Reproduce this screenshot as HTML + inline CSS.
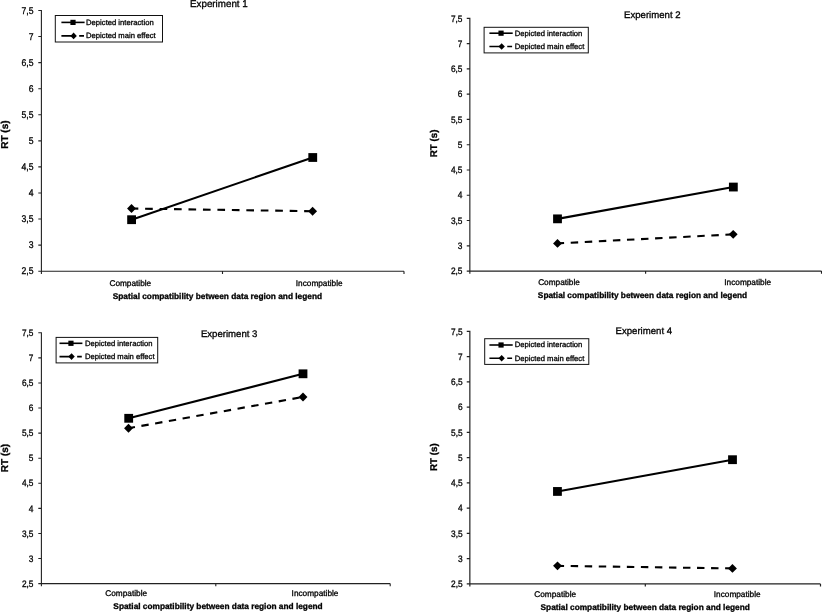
<!DOCTYPE html>
<html><head><meta charset="utf-8"><title>Experiments 1-4</title>
<style>
html,body{margin:0;padding:0;background:#fff;}
body{width:822px;height:612px;overflow:hidden;}
svg{display:block;font-family:"Liberation Sans", sans-serif;}
svg text{text-rendering:geometricPrecision;fill:#000;stroke:#000;stroke-width:0.3px;}
</style></head><body>
<svg width="822" height="612" viewBox="0 0 822 612">
<rect width="822" height="612" fill="#fff"/>
<g class="axes" fill="none" stroke="#222" stroke-width="1.1">
<path d="M41.4 10V271.2H404M38.3 271.2H41.4M38.3 245.13H41.4M38.3 219.06H41.4M38.3 192.99H41.4M38.3 166.92H41.4M38.3 140.85H41.4M38.3 114.78H41.4M38.3 88.71H41.4M38.3 62.64H41.4M38.3 36.57H41.4M38.3 10.5H41.4M41.4 271.2V273.9M222.5 271.2V273.9M404 271.2V273.9"/></g>
<g class="ticks" text-anchor="end" font-size="9.7">
<text transform="translate(33.5 274.4) scale(0.89 1)">2,5</text>
<text transform="translate(33.5 248.33) scale(0.89 1)">3</text>
<text transform="translate(33.5 222.26) scale(0.89 1)">3,5</text>
<text transform="translate(33.5 196.19) scale(0.89 1)">4</text>
<text transform="translate(33.5 170.12) scale(0.89 1)">4,5</text>
<text transform="translate(33.5 144.05) scale(0.89 1)">5</text>
<text transform="translate(33.5 117.98) scale(0.89 1)">5,5</text>
<text transform="translate(33.5 91.91) scale(0.89 1)">6</text>
<text transform="translate(33.5 65.84) scale(0.89 1)">6,5</text>
<text transform="translate(33.5 39.77) scale(0.89 1)">7</text>
<text transform="translate(33.5 13.7) scale(0.89 1)">7,5</text>
</g>
<text x="130.3" y="285.8" text-anchor="middle" font-size="8.25">Compatible</text>
<text x="319.2" y="285.8" text-anchor="middle" font-size="8.25">Incompatible</text>
<text x="217.4" y="299.1" text-anchor="middle" font-size="8.3" font-weight="bold">Spatial compatibility between data region and legend</text>
<text transform="translate(7.7 134.6) rotate(-90)" text-anchor="middle" font-size="10.0" font-weight="bold">RT (s)</text>
<text x="218.9" y="7.2" text-anchor="middle" font-size="9.8">Experiment 1</text>
<path d="M131.6 219.7L312.75 157.5" stroke="#000" stroke-width="2.1" fill="none"/>
<path d="M131.5 208.55L312.6 211.2" stroke="#000" stroke-width="2.1" fill="none" stroke-dasharray="7.66 6.8" stroke-dashoffset="0.85"/>
<rect x="127.2" y="215.3" width="8.8" height="8.8" fill="#000"/>
<rect x="308.35" y="153.1" width="8.8" height="8.8" fill="#000"/>
<path d="M127.05 208.55L131.5 204.1L135.95 208.55L131.5 213Z" fill="#000"/>
<path d="M308.15 211.2L312.6 206.75L317.05 211.2L312.6 215.65Z" fill="#000"/>
<rect x="55.3" y="15.5" width="107.2" height="26.5" fill="#fff" stroke="#111" stroke-width="1"/>
<path d="M61.4 22.4H84.6" stroke="#000" stroke-width="1.6"/>
<rect x="70.4" y="19.8" width="5.2" height="5.2" fill="#000"/>
<path d="M61.4 35.9H73M79.2 35.9H84" stroke="#000" stroke-width="1.6"/>
<path d="M70.4 35.9l3.2 -3.3l3.2 3.3l-3.2 3.3Z" fill="#000"/>
<text x="86.1" y="24.8" font-size="7.65">Depicted interaction</text>
<text x="86.1" y="38.2" font-size="7.65">Depicted main effect</text>
<g class="axes" fill="none" stroke="#222" stroke-width="1.15">
<path d="M469.85 17.8V271.1H821.5M466.75 271.1H469.85M466.75 245.82H469.85M466.75 220.54H469.85M466.75 195.26H469.85M466.75 169.98H469.85M466.75 144.7H469.85M466.75 119.42H469.85M466.75 94.14H469.85M466.75 68.86H469.85M466.75 43.58H469.85M466.75 18.3H469.85M469.85 271.1V273.8M645.6 271.1V273.8M821.5 271.1V273.8"/></g>
<g class="ticks" text-anchor="end" font-size="9.4">
<text transform="translate(462.5 274.3) scale(0.89 1)">2,5</text>
<text transform="translate(462.5 249.02) scale(0.89 1)">3</text>
<text transform="translate(462.5 223.74) scale(0.89 1)">3,5</text>
<text transform="translate(462.5 198.46) scale(0.89 1)">4</text>
<text transform="translate(462.5 173.18) scale(0.89 1)">4,5</text>
<text transform="translate(462.5 147.9) scale(0.89 1)">5</text>
<text transform="translate(462.5 122.62) scale(0.89 1)">5,5</text>
<text transform="translate(462.5 97.34) scale(0.89 1)">6</text>
<text transform="translate(462.5 72.06) scale(0.89 1)">6,5</text>
<text transform="translate(462.5 46.78) scale(0.89 1)">7</text>
<text transform="translate(462.5 21.5) scale(0.89 1)">7,5</text>
</g>
<text x="559" y="285.1" text-anchor="middle" font-size="8.25">Compatible</text>
<text x="747.7" y="285.1" text-anchor="middle" font-size="8.25">Incompatible</text>
<text x="642.5" y="298.4" text-anchor="middle" font-size="8.3" font-weight="bold">Spatial compatibility between data region and legend</text>
<text transform="translate(436.7 143.4) rotate(-90)" text-anchor="middle" font-size="9.8" font-weight="bold">RT (s)</text>
<text x="652.3" y="18" text-anchor="middle" font-size="9.6">Experiment 2</text>
<path d="M557.5 218.85L733.35 187.05" stroke="#000" stroke-width="2.1" fill="none"/>
<path d="M557.5 243.4L733.2 234.35" stroke="#000" stroke-width="2.1" fill="none" stroke-dasharray="7.46 6.62" stroke-dashoffset="0.85"/>
<rect x="553.1" y="214.45" width="8.8" height="8.8" fill="#000"/>
<rect x="728.95" y="182.65" width="8.8" height="8.8" fill="#000"/>
<path d="M553.05 243.4L557.5 238.95L561.95 243.4L557.5 247.85Z" fill="#000"/>
<path d="M728.75 234.35L733.2 229.9L737.65 234.35L733.2 238.8Z" fill="#000"/>
<rect x="484.1" y="27.3" width="104.2" height="25.6" fill="#fff" stroke="#111" stroke-width="1"/>
<path d="M489.4 33.2H512.7" stroke="#000" stroke-width="1.6"/>
<rect x="498.45" y="30.6" width="5.2" height="5.2" fill="#000"/>
<path d="M489.4 46.5H501.05M507.25 46.5H512.1" stroke="#000" stroke-width="1.6"/>
<path d="M498.45 46.5l3.2 -3.3l3.2 3.3l-3.2 3.3Z" fill="#000"/>
<text x="514.8" y="35.6" font-size="7.65">Depicted interaction</text>
<text x="514.8" y="48.8" font-size="7.65">Depicted main effect</text>
<g class="axes" fill="none" stroke="#222" stroke-width="1.1">
<path d="M41.4 332.3V583.6H390.2M38.3 583.6H41.4M38.3 558.52H41.4M38.3 533.44H41.4M38.3 508.36H41.4M38.3 483.28H41.4M38.3 458.2H41.4M38.3 433.12H41.4M38.3 408.04H41.4M38.3 382.96H41.4M38.3 357.88H41.4M38.3 332.8H41.4M41.4 583.6V586.3M215.8 583.6V586.3M390.2 583.6V586.3"/></g>
<g class="ticks" text-anchor="end" font-size="9.4">
<text transform="translate(33.5 586.8) scale(0.89 1)">2,5</text>
<text transform="translate(33.5 561.72) scale(0.89 1)">3</text>
<text transform="translate(33.5 536.64) scale(0.89 1)">3,5</text>
<text transform="translate(33.5 511.56) scale(0.89 1)">4</text>
<text transform="translate(33.5 486.48) scale(0.89 1)">4,5</text>
<text transform="translate(33.5 461.4) scale(0.89 1)">5</text>
<text transform="translate(33.5 436.32) scale(0.89 1)">5,5</text>
<text transform="translate(33.5 411.24) scale(0.89 1)">6</text>
<text transform="translate(33.5 386.16) scale(0.89 1)">6,5</text>
<text transform="translate(33.5 361.08) scale(0.89 1)">7</text>
<text transform="translate(33.5 336) scale(0.89 1)">7,5</text>
</g>
<text x="126.2" y="595.8" text-anchor="middle" font-size="8.25">Compatible</text>
<text x="315" y="595.8" text-anchor="middle" font-size="8.25">Incompatible</text>
<text x="218" y="608.6" text-anchor="middle" font-size="8.3" font-weight="bold">Spatial compatibility between data region and legend</text>
<text transform="translate(7.7 458) rotate(-90)" text-anchor="middle" font-size="10.0" font-weight="bold">RT (s)</text>
<text x="229.2" y="336.6" text-anchor="middle" font-size="9.6">Experiment 3</text>
<path d="M128.7 418.3L303 373.8" stroke="#000" stroke-width="2.1" fill="none"/>
<path d="M128.5 428.2L303 397" stroke="#000" stroke-width="2.1" fill="none" stroke-dasharray="7.39 6.56" stroke-dashoffset="0.85"/>
<rect x="124.3" y="413.9" width="8.8" height="8.8" fill="#000"/>
<rect x="298.6" y="369.4" width="8.8" height="8.8" fill="#000"/>
<path d="M124.05 428.2L128.5 423.75L132.95 428.2L128.5 432.65Z" fill="#000"/>
<path d="M298.55 397L303 392.55L307.45 397L303 401.45Z" fill="#000"/>
<rect x="56.1" y="337.4" width="101.6" height="25.5" fill="#fff" stroke="#111" stroke-width="1"/>
<path d="M59.5 343.3H82.4" stroke="#000" stroke-width="1.6"/>
<rect x="68.35" y="340.7" width="5.2" height="5.2" fill="#000"/>
<path d="M59.5 356.6H70.95M77.15 356.6H81.8" stroke="#000" stroke-width="1.6"/>
<path d="M68.35 356.6l3.2 -3.3l3.2 3.3l-3.2 3.3Z" fill="#000"/>
<text x="85" y="345.7" font-size="7.65">Depicted interaction</text>
<text x="85" y="358.9" font-size="7.65">Depicted main effect</text>
<g class="axes" fill="none" stroke="#222" stroke-width="1.2">
<path d="M469.85 330.8V583.9H820.5M466.75 583.9H469.85M466.75 558.64H469.85M466.75 533.38H469.85M466.75 508.12H469.85M466.75 482.86H469.85M466.75 457.6H469.85M466.75 432.34H469.85M466.75 407.08H469.85M466.75 381.82H469.85M466.75 356.56H469.85M466.75 331.3H469.85M469.85 583.9V586.6M645.3 583.9V586.6M820.5 583.9V586.6"/></g>
<g class="ticks" text-anchor="end" font-size="9.4">
<text transform="translate(462.6 587.1) scale(0.89 1)">2,5</text>
<text transform="translate(462.6 561.84) scale(0.89 1)">3</text>
<text transform="translate(462.6 536.58) scale(0.89 1)">3,5</text>
<text transform="translate(462.6 511.32) scale(0.89 1)">4</text>
<text transform="translate(462.6 486.06) scale(0.89 1)">4,5</text>
<text transform="translate(462.6 460.8) scale(0.89 1)">5</text>
<text transform="translate(462.6 435.54) scale(0.89 1)">5,5</text>
<text transform="translate(462.6 410.28) scale(0.89 1)">6</text>
<text transform="translate(462.6 385.02) scale(0.89 1)">6,5</text>
<text transform="translate(462.6 359.76) scale(0.89 1)">7</text>
<text transform="translate(462.6 334.5) scale(0.89 1)">7,5</text>
</g>
<text x="555.2" y="596.6" text-anchor="middle" font-size="8.25">Compatible</text>
<text x="737.2" y="596.6" text-anchor="middle" font-size="8.25">Incompatible</text>
<text x="645.2" y="609.6" text-anchor="middle" font-size="8.3" font-weight="bold">Spatial compatibility between data region and legend</text>
<text transform="translate(436.5 457.2) rotate(-90)" text-anchor="middle" font-size="9.8" font-weight="bold">RT (s)</text>
<text x="643.8" y="333.5" text-anchor="middle" font-size="9.6">Experiment 4</text>
<path d="M557.45 491.45L732.5 459.7" stroke="#000" stroke-width="2.1" fill="none"/>
<path d="M557.5 565.85L732.45 568.4" stroke="#000" stroke-width="2.1" fill="none" stroke-dasharray="7.44 6.6" stroke-dashoffset="0.85"/>
<rect x="553.05" y="487.05" width="8.8" height="8.8" fill="#000"/>
<rect x="728.1" y="455.3" width="8.8" height="8.8" fill="#000"/>
<path d="M553.05 565.85L557.5 561.4L561.95 565.85L557.5 570.3Z" fill="#000"/>
<path d="M728 568.4L732.45 563.95L736.9 568.4L732.45 572.85Z" fill="#000"/>
<rect x="484.7" y="338.7" width="104.1" height="25.7" fill="#fff" stroke="#111" stroke-width="1"/>
<path d="M489.4 345H512.7" stroke="#000" stroke-width="1.6"/>
<rect x="498.45" y="342.4" width="5.2" height="5.2" fill="#000"/>
<path d="M489.4 358.2H501.05M507.25 358.2H512.1" stroke="#000" stroke-width="1.6"/>
<path d="M498.45 358.2l3.2 -3.3l3.2 3.3l-3.2 3.3Z" fill="#000"/>
<text x="514.8" y="347.4" font-size="7.65">Depicted interaction</text>
<text x="514.8" y="360.5" font-size="7.65">Depicted main effect</text>
</svg>
</body></html>
